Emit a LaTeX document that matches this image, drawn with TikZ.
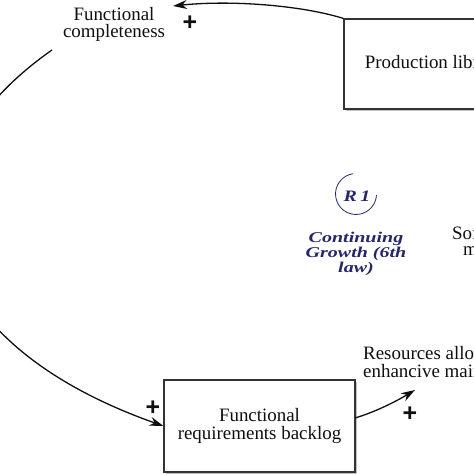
\documentclass[tikz,border=0pt]{standalone}
\usepackage{fontspec}
\setmainfont{Liberation Serif}
\newfontfamily\plusfont{Liberation Sans}
\usetikzlibrary{arrows.meta,shadows}
\definecolor{navy}{RGB}{38,38,105}
\definecolor{ink}{RGB}{15,15,15}
\tikzset{
  lbl/.style={inner sep=0pt, text=ink, font=\fontsize{19}{18}\selectfont},
  boxnode/.style={draw=ink!85, line width=1.1bp, fill=white, inner sep=0pt, align=center,
     font=\fontsize{19}{18}\selectfont, text=ink,
     drop shadow={shadow xshift=2bp, shadow yshift=-2bp, fill=gray!50, opacity=1}},
  link/.style={line width=1.3bp, draw=ink, -{Stealth[length=14bp,width=9bp]}},
  sgn/.style={inner sep=0pt, text=ink, font=\plusfont\bfseries\fontsize{25}{25}\selectfont},
  loopname/.style={inner sep=0pt, text=navy, font=\bfseries\itshape\fontsize{15}{14}\selectfont}
}
\begin{document}
\begin{tikzpicture}[x=1bp,y=1bp]
\useasboundingbox (0,0) rectangle (474,474);
\clip (0,0) rectangle (474,474);
% boxes
\node[boxnode, minimum width=180bp, minimum height=90bp] (prod) at (434,410) {Production library};
\node[boxnode, minimum width=191bp, minimum height=92bp] (req) at (259.5,48) {Functional\\requirements backlog};
% labels
\node[lbl, anchor=base] (fc1) at (114,453) {Functional};
\node[lbl, anchor=base] (fc2) at (114,436) {completeness};
\node[lbl, anchor=base west] (res1) at (363,114) {Resources allocated to};
\node[lbl, anchor=base west] (res2) at (363,96) {enhancive maintenance};
\node[lbl, anchor=base west] (sw1) at (452,234) {Software};
\node[lbl, anchor=base west] (sw2) at (463,218) {maturity};
% loop marker
\draw[navy, line width=0.8bp] (356,280) ++(98:20.5) arc[start angle=98, end angle=357, radius=20.5];
\node[loopname, anchor=base] (r1) at (357,272) {\scalebox{1.25}[1]{\fontsize{16}{16}\selectfont R\,1}};
\node[loopname, anchor=base] (cg1) at (356,231) {\scalebox{1.34}[1]{Continuing}};
\node[loopname, anchor=base] (cg2) at (356,216) {\scalebox{1.34}[1]{Growth (6th}};
\node[loopname, anchor=base] (cg3) at (356,201) {\scalebox{1.34}[1]{law)}};
% connector points
\coordinate (fctip) at (173,468);
\coordinate (fcfoot) at (52,424);
\coordinate (reqout) at (355,56);
\coordinate (restip) at (415,84);
% connectors
\draw[link] (prod.north west) .. controls (300,469) and (230,474) .. (fctip);
\draw[link] (fcfoot) .. controls (-118,305) and (-80,134) .. (req.west);
\draw[link] (reqout) .. controls (375,62) and (395,72) .. (restip);
% signs
\node[sgn] (p1) at (190,451) {+};
\node[sgn] (p2) at (153,66) {+};
\node[sgn] (p3) at (410,60) {+};
\end{tikzpicture}
\end{document}
